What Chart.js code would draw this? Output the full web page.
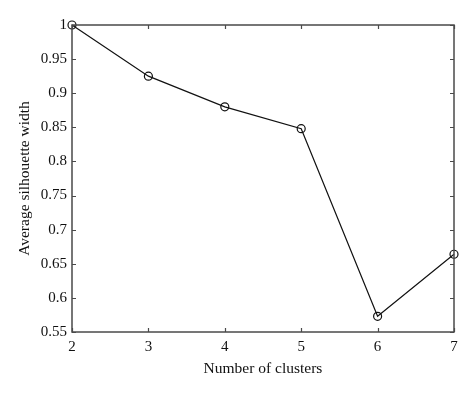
<!DOCTYPE html>
<html>
<head>
<meta charset="utf-8">
<script src="https://cdn.jsdelivr.net/npm/chart.js@4/dist/chart.umd.min.js"></script>
<style>
html,body{margin:0;padding:0;background:#fff;}
#wrap{width:474px;height:394px;}
</style>
</head>
<body>
<div id="wrap"><canvas id="c" width="474" height="394"></canvas></div>
<script>
const clusters = [2, 3, 4, 5, 6, 7];
const silhouette = [1.0, 0.925, 0.880, 0.848, 0.573, 0.664];
const xTitle = 'Number of clusters';
const yTitle = 'Average silhouette width';

const FONT = '"Liberation Serif", "Times New Roman", serif';
const AXIS = '#4a4a4a';

const boxPlugin = {
  id: 'box',
  afterDatasetsDraw(chart) {
    const {ctx, chartArea: a, scales} = chart;
    ctx.save();
    ctx.strokeStyle = AXIS;
    ctx.lineWidth = 1.5;
    ctx.strokeRect(a.left, a.top, a.right - a.left, a.bottom - a.top);
    ctx.lineWidth = 1.2;
    const L = 4;
    ctx.beginPath();
    scales.x.ticks.forEach(t => {
      const px = Math.round(scales.x.getPixelForValue(t.value)) + 0.5;
      ctx.moveTo(px, a.bottom); ctx.lineTo(px, a.bottom - L);
      ctx.moveTo(px, a.top); ctx.lineTo(px, a.top + L);
    });
    scales.y.ticks.forEach(t => {
      const py = Math.round(scales.y.getPixelForValue(t.value)) + 0.5;
      ctx.moveTo(a.left, py); ctx.lineTo(a.left + L, py);
      ctx.moveTo(a.right, py); ctx.lineTo(a.right - L, py);
    });
    ctx.stroke();
    ctx.restore();
  }
};

new Chart(document.getElementById('c'), {
  type: 'scatter',
  data: {
    datasets: [{
      data: clusters.map((c, i) => ({x: c, y: silhouette[i]})),
      showLine: true,
      clip: false,
      borderColor: '#111',
      borderWidth: 1.2,
      pointRadius: 4,
      pointBorderWidth: 1.2,
      pointBackgroundColor: 'rgba(0,0,0,0)',
      pointBorderColor: '#111',
      tension: 0
    }]
  },
  options: {
    responsive: false,
    animation: false,
    layout: {padding: {top: 25, right: 20, left: 16, bottom: 16}},
    plugins: {legend: {display: false}, tooltip: {enabled: false}},
    scales: {
      x: {
        type: 'linear', min: 2, max: 7,
        grid: {display: false, drawTicks: false},
        border: {display: false},
        ticks: {stepSize: 1, padding: 6, color: '#111', font: {family: FONT, size: 15}},
        title: {display: true, text: xTitle, color: '#111', font: {family: FONT, size: 15.5}, padding: {top: 4, bottom: 0}},
        afterFit(s) { s.height = 46; }
      },
      y: {
        min: 0.55, max: 1,
        grid: {display: false, drawTicks: false},
        border: {display: false},
        ticks: {stepSize: 0.05, padding: 5, color: '#111', font: {family: FONT, size: 15},
          callback: v => String(Number(v.toFixed(2)))},
        title: {display: true, text: yTitle, color: '#111', font: {family: FONT, size: 15.5}, padding: {top: 0, bottom: 0}},
        afterFit(s) { s.width = 56; }
      }
    }
  },
  plugins: [boxPlugin]
});
</script>
</body>
</html>
